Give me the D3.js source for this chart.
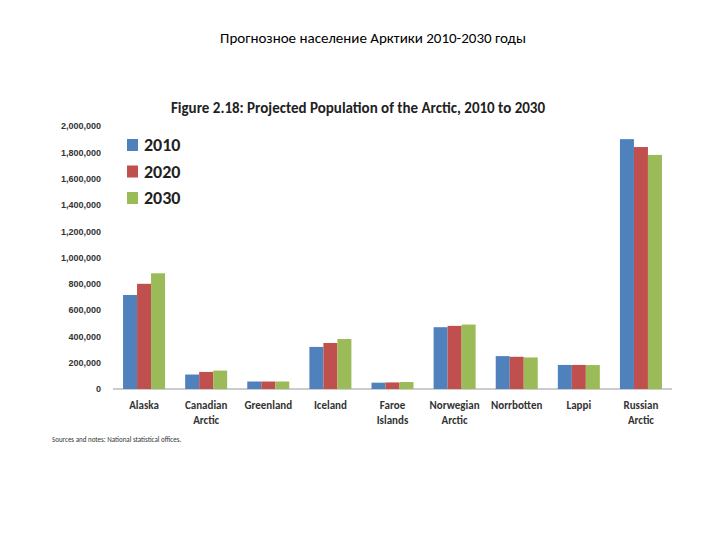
<!DOCTYPE html>
<html><head><meta charset="utf-8">
<script src="https://cdn.jsdelivr.net/npm/d3@7"></script>
<style>body{margin:0;background:#fff;font-family:Calibri,"Liberation Sans","DejaVu Sans",sans-serif;}</style>
</head><body>
<script>
const categories = [["Alaska"], ["Canadian", "Arctic"], ["Greenland"], ["Iceland"], ["Faroe", "Islands"], ["Norwegian", "Arctic"], ["Norrbotten"], ["Lappi"], ["Russian", "Arctic"]];
const years = ["2010", "2020", "2030"];
const v2010 = [715000, 110000, 57000, 320000, 48000, 470000, 250000, 183000, 1900000];
const v2020 = [800000, 130000, 57000, 350000, 50000, 480000, 245000, 183000, 1840000];
const v2030 = [880000, 140000, 57000, 380000, 53000, 490000, 240000, 182000, 1780000];
const colors = ["#4f81bd", "#c0504d", "#9bbb59"];
const series = [v2010, v2020, v2030];

const svg = d3.select("body").append("svg").attr("width", 720).attr("height", 540);

svg.append("text").attr("x", 373).attr("y", 43).attr("text-anchor", "middle")
  .style("font-size", "15px").text("Прогнозное население Арктики 2010-2030 годы");
svg.append("text").attr("x", 358).attr("y", 113).attr("text-anchor", "middle")
  .style("font-size", "15px").style("font-weight", "bold").attr("fill", "#222")
  .text("Figure 2.18: Projected Population of the Arctic, 2010 to 2030");

const x = d3.scaleBand().domain(d3.range(categories.length)).range([113, 672]);
const inner = d3.scaleBand().domain(d3.range(3)).range([0, 42]);
const y = d3.scaleLinear().domain([0, 2000000]).range([389, 126]);

const yAxis = svg.append("g").attr("transform", "translate(104,0)")
  .call(d3.axisLeft(y).tickValues(d3.range(0, 2000001, 200000)).tickSize(0).tickFormat(d3.format(",")));
yAxis.select(".domain").remove();
yAxis.selectAll("text").style("font-size", "9px").style("font-weight", "bold").attr("fill", "#333")
  .style("font-family", "inherit");

svg.append("line").attr("x1", 113).attr("x2", 672).attr("y1", 389).attr("y2", 389).attr("stroke", "#999");

series.forEach((s, i) => {
  svg.append("g").selectAll("rect").data(s).enter().append("rect")
    .attr("x", (d, j) => x(j) + (x.bandwidth() - 42) / 2 + inner(i))
    .attr("width", inner.bandwidth())
    .attr("y", d => y(d)).attr("height", d => 389 - y(d))
    .attr("fill", colors[i]);
});

const lab = svg.append("g").selectAll("text").data(categories).enter().append("text")
  .attr("x", (d, j) => x(j) + x.bandwidth() / 2).attr("y", 409)
  .attr("text-anchor", "middle").style("font-size", "11px").style("font-weight", "bold").attr("fill", "#333");
lab.selectAll("tspan").data(d => d).enter().append("tspan")
  .attr("x", function () { return this.parentNode.getAttribute("x"); })
  .attr("dy", (d, k) => k ? 15 : 0).text(d => d);

const leg = svg.append("g").selectAll("g").data(years).enter().append("g")
  .attr("transform", (d, i) => `translate(127,${139 + i * 26.5})`);
leg.append("rect").attr("width", 11).attr("height", 12).attr("fill", (d, i) => colors[i]);
leg.append("text").attr("x", 17).attr("y", 12).style("font-size", "18px").style("font-weight", "bold")
  .attr("fill", "#222").text(d => d);

svg.append("text").attr("x", 52).attr("y", 442).style("font-size", "7px").attr("fill", "#333")
  .text("Sources and notes: National statistical offices.");
</script>
</body></html>
